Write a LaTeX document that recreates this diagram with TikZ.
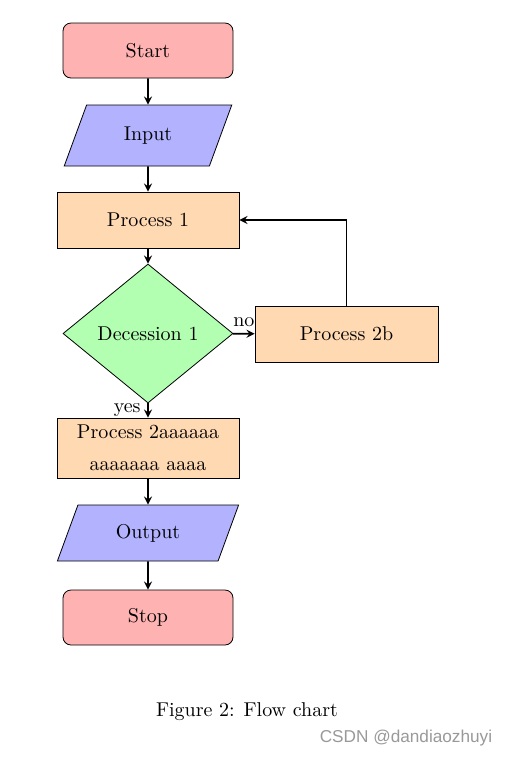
\documentclass[tikz,border=0pt]{standalone}
\usepackage{fontspec}
\newfontfamily\wmfont{Liberation Sans}
\usetikzlibrary{shapes.geometric,arrows}
\begin{document}
\begin{tikzpicture}[x=0.5pt,y=-0.5pt,
  startstop/.style={rectangle, rounded corners, minimum width=85pt, minimum height=27.5pt, align=center, draw=black, fill=red!30},
  io/.style={trapezium, trapezium left angle=70, trapezium right angle=110, trapezium stretches=true, align=center, draw=black, fill=blue!30},
  process/.style={rectangle, minimum width=91pt, minimum height=28pt, align=center, draw=black, fill=orange!30},
  decision/.style={diamond, minimum width=85pt, minimum height=69.5pt, inner sep=0pt, align=center, draw=black, fill=green!30},
  arrow/.style={thick,->,>=stealth}]
\useasboundingbox (0,0) rectangle (506,757);
\node[startstop] (start) at (148,50.5) {Start};
\node[io, minimum width=84pt, minimum height=30.5pt] (in1) at (148,135.5) {Input};
\node[process] (pro1) at (148,220) {Process 1};
\node[decision] (dec1) at (148,333.5) {Decession 1};
\node[process, minimum width=91.5pt] (pro2b) at (346.5,334) {Process 2b};
\node[process, minimum height=30pt] (pro2a) at (148,448) {Process 2aaaaaa\\[4pt]aaaaaaa aaaa};
\node[io, minimum width=91pt, minimum height=28pt] (out1) at (148,533) {Output};
\node[startstop] (stop) at (148,617.5) {Stop};
\draw[arrow] (start) -- (in1);
\draw[arrow] (in1) -- (pro1);
\draw[arrow] (pro1) -- (dec1);
\draw[arrow] (dec1) -- node[left] {yes} (pro2a);
\draw[arrow] (dec1) -- node[above] {no} (pro2b);
\draw[arrow] (pro2b) |- (pro1);
\draw[arrow] (pro2a) -- (out1);
\draw[arrow] (out1) -- (stop);
\node (cap) at (247,712) {Figure 2: Flow chart};
\node[text=black!40, font=\wmfont\fontsize{8.6pt}{10pt}\selectfont] (wm) at (406,738) {CSDN @dandiaozhuyi};
\end{tikzpicture}
\end{document}
